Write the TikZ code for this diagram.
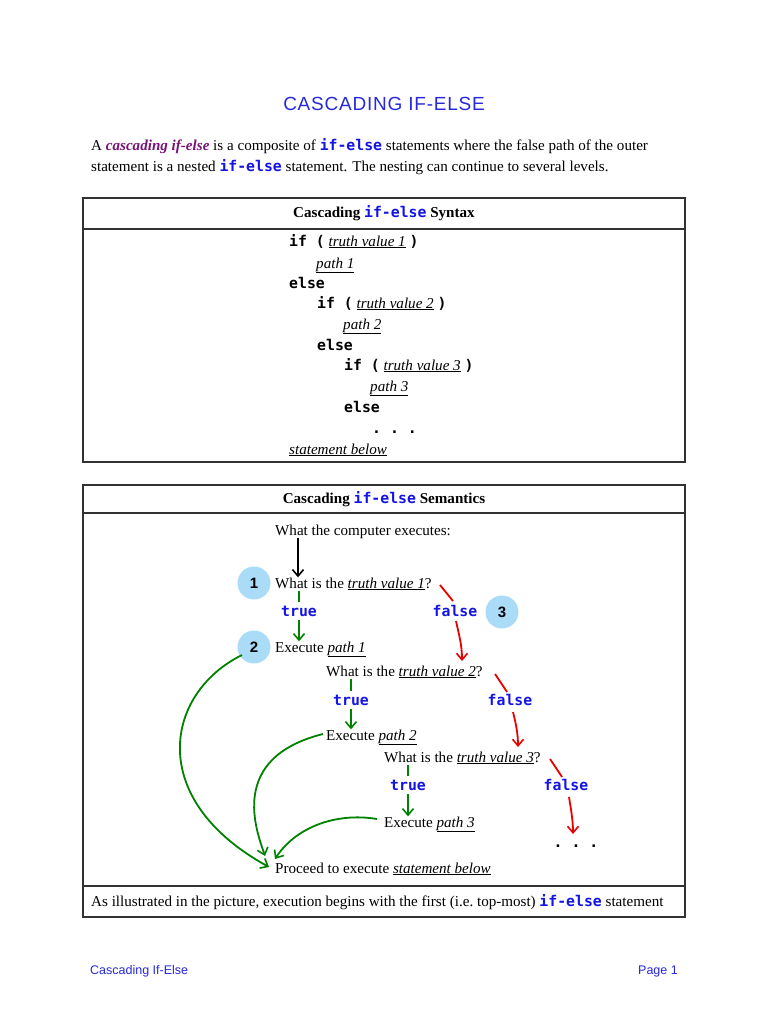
\documentclass[tikz,border=0pt]{standalone}
\usepackage{fontspec}
\setmainfont{Liberation Serif}
\setsansfont{Liberation Sans}
\newfontfamily\codefont[Scale=0.98]{DejaVu Sans Mono}
\newfontfamily\titlefont[LetterSpace=4]{Liberation Sans}
\usetikzlibrary{arrows.meta}
\definecolor{kwblue}{RGB}{20,20,230}
\definecolor{titleblue}{RGB}{40,40,220}
\definecolor{purp}{RGB}{120,20,120}
\definecolor{grn}{RGB}{0,130,0}
\definecolor{rd}{RGB}{235,0,0}
\definecolor{circ}{RGB}{170,220,248}
\definecolor{boxline}{RGB}{50,50,50}
\newcommand\kw[1]{{\codefont\bfseries\color{kwblue}#1}}
\newcommand\cw[1]{{\codefont\bfseries #1}}
\newcommand\uit[1]{\underline{\textit{#1}}}
\begin{document}
\begin{tikzpicture}[x=1pt,y=-1pt,
  txt/.style={anchor=base west,inner sep=0pt,font=\fontsize{15.1}{18}\selectfont},
  ctxt/.style={anchor=base,inner sep=0pt,font=\fontsize{15.1}{18}\selectfont},
  boxl/.style={draw=boxline,line width=1.2pt},
  num/.style={circle,fill=circ,minimum size=33pt,inner sep=0pt,font=\sffamily\bfseries\fontsize{15}{17}\selectfont},
  tip/.style={-{Straight Barb[length=6.5pt,width=11pt,line width=1.6pt]}},
  gline/.style={draw=grn,line width=1.8pt},
  rline/.style={draw=rd,line width=1.8pt},
  garrow/.style={gline,tip},
  rarrow/.style={rline,tip},
  barrow/.style={draw=black,line width=1.8pt,tip}]
\fill[white] (0,0) rectangle (768,1024);
\path[use as bounding box] (0,0) rectangle (768,1024);

% title and intro
\node[anchor=base,inner sep=0pt,font=\titlefont\fontsize{19}{22}\selectfont,text=titleblue] (title) at (384,111) {CASCADING IF-ELSE};
\node[txt] (p1) at (91,151) {A {\color{purp}\textbf{\textit{cascading if-else}}} is a composite of \kw{if-else} statements where the false path of the outer};
\node[txt] (p2) at (91,172) {statement is a nested \kw{if-else} statement. The nesting can continue to several levels.};

% syntax box
\draw[boxl] (83,198) rectangle (685,462);
\draw[boxl] (83,229) -- (685,229);
\node[ctxt] (hdr1) at (384,218) {\textbf{Cascading} \kw{if-else} \textbf{Syntax}};
\node[txt] (s1) at (289,246) {\cw{if (} \uit{truth value 1} \cw{)}};
\node[txt] (s2) at (316,268) {\uit{path 1}};
\node[txt] (s3) at (289,288) {\cw{else}};
\node[txt] (s4) at (317,308) {\cw{if (} \uit{truth value 2} \cw{)}};
\node[txt] (s5) at (343,329) {\uit{path 2}};
\node[txt] (s6) at (317,350) {\cw{else}};
\node[txt] (s7) at (344,370) {\cw{if (} \uit{truth value 3} \cw{)}};
\node[txt] (s8) at (370,391) {\uit{path 3}};
\node[txt] (s9) at (344,412) {\cw{else}};
\node[txt] (s10) at (372,433) {\cw{.\ .\ .}};
\node[txt] (s11) at (289,454) {\uit{statement below}};

% semantics box
\draw[boxl] (83,485) rectangle (685,917);
\draw[boxl] (83,513) -- (685,513);
\draw[boxl] (83,886) -- (685,886);
\node[ctxt] (hdr2) at (384,503) {\textbf{Cascading} \kw{if-else} \textbf{Semantics}};
\node[txt] (note) at (91,906) {As illustrated in the picture, execution begins with the first (i.e.\ top-most) \kw{if-else} statement};

% diagram
\node[txt] (exec) at (275,535) {What the computer executes:};
\node[num] (c1) at (254,583) {1};
\node[txt] (q1) at (275,588) {What is the \uit{truth value 1}?};
\node[ctxt] (t1) at (299,616) {\kw{true}};
\node[ctxt] (f1) at (455,616) {\kw{false}};
\node[num] (c3) at (502,612) {3};
\node[num] (c2) at (254,647) {2};
\node[txt] (e1) at (275,652) {Execute \uit{path 1}};
\node[txt] (q2) at (326,676) {What is the \uit{truth value 2}?};
\node[ctxt] (t2) at (351,705) {\kw{true}};
\node[ctxt] (f2) at (510,705) {\kw{false}};
\node[txt] (e2) at (326,740) {Execute \uit{path 2}};
\node[txt] (q3) at (384,762) {What is the \uit{truth value 3}?};
\node[ctxt] (t3) at (408,790) {\kw{true}};
\node[ctxt] (f3) at (566,790) {\kw{false}};
\node[txt] (e3) at (384,827) {Execute \uit{path 3}};
\node[ctxt] (dots) at (576,847) {\cw{.\ .\ .}};
\node[txt] (proc) at (275,873) {Proceed to execute \uit{statement below}};

% black start arrow
\coordinate (start) at (298,538);
\draw[barrow] (start) -- (start |- q1.north);

% true branches
\draw[gline] ([yshift=-1pt]q1.south -| t1) -- ([yshift=3pt]t1.north);
\draw[garrow] ([yshift=-4pt]t1.south) -- (t1.south |- e1.north);
\draw[gline] ([yshift=-1pt]q2.south -| t2) -- ([yshift=3pt]t2.north);
\draw[garrow] ([yshift=-4pt]t2.south) -- (t2.south |- e2.north);
\draw[gline] ([yshift=-1pt]q3.south -| t3) -- ([yshift=3pt]t3.north);
\draw[garrow] ([yshift=-4pt]t3.south) -- (t3.south |- e3.north);

% false branches
\coordinate (r1a) at (440,585); \coordinate (r1b) at (453,601);
\coordinate (r1c) at (456,621); \coordinate (r1d) at (462,661);
\draw[rline] (r1a) -- (r1b);
\draw[rarrow] (r1c) .. controls (459,635) and (462,645) .. (r1d);
\coordinate (r2a) at (495,674); \coordinate (r2b) at (507,692);
\coordinate (r2c) at (513,712); \coordinate (r2d) at (518,747);
\draw[rline] (r2a) -- (r2b);
\draw[rarrow] (r2c) .. controls (516,724) and (518,734) .. (r2d);
\coordinate (r3a) at (550,759); \coordinate (r3b) at (562,777);
\coordinate (r3c) at (569,797); \coordinate (r3d) at (573,834);
\draw[rline] (r3a) -- (r3b);
\draw[rarrow] (r3c) .. controls (571,810) and (573,820) .. (r3d);

% return arcs
\coordinate (g1s) at (242,655); \coordinate (g1e) at (269,867);
\draw[garrow] (g1s) .. controls (165,693) and (145,799) .. (g1e);
\coordinate (g2s) at (323,734); \coordinate (g2e) at (265,856);
\draw[garrow] (g2s) .. controls (227,758) and (257,832) .. (g2e);
\coordinate (g3s) at (377,819); \coordinate (g3e) at (275,859);
\draw[garrow] (g3s) .. controls (335,812) and (295,828) .. (g3e);

% footer
\node[anchor=base west,inner sep=0pt,font=\sffamily\fontsize{12.5}{14}\selectfont,text=titleblue] (foot1) at (90,974) {Cascading If-Else};
\node[anchor=base east,inner sep=0pt,font=\sffamily\fontsize{12.5}{14}\selectfont,text=titleblue] (foot2) at (678,974) {Page 1};
\end{tikzpicture}
\end{document}
